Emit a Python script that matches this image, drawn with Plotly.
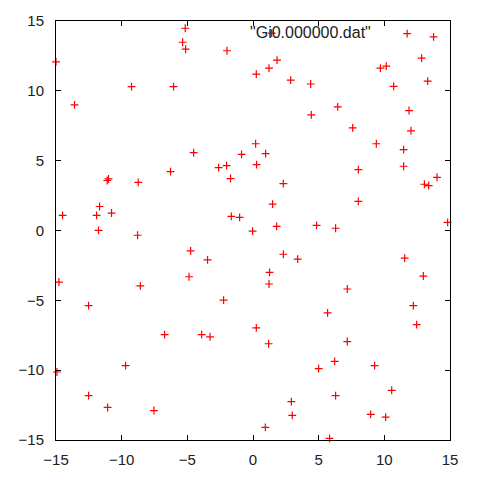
import plotly.graph_objects as go

x_vals = [-15.0, -13.59, -9.25, -6.05, -5.16, -5.36, -5.13, -1.98, -4.52, -0.87,
          1.42, 13.75, 1.83, 1.22, 0.25, 2.87, 4.39, 9.70, 10.15, 12.84,
          10.71, 13.30, 6.45, 4.44, 11.88, 7.59, 12.03, 0.20, 9.39, 11.47,
          0.96, -6.28, -2.62, -2.01, -1.71, -11.0, -11.1, -8.74, -11.68, -14.5,
          -11.91, -10.77, -1.65, -1.02, -0.03, -11.76, -8.79, -4.75, -3.46, -14.78,
          -8.58, -4.87, -2.24, 0.27, 2.31, 8.02, 11.47, 13.05, 13.38, 14.01,
          1.49, 8.02, 14.82, 1.80, 4.84, 6.29, 2.31, 3.40, 11.55, 1.26,
          1.22, 12.97, 7.18, -12.52, -6.73, -3.91, -3.27, -9.70, -14.93, -12.52,
          -11.07, -7.54, 12.21, 12.46, 5.68, 0.25, 1.19, 7.18, 6.22, 5.0,
          9.26, 10.56, 6.29, 2.92, 2.99, 8.96, 10.10, 0.94, 5.83]
y_vals = [12.08, 9.0, 10.3, 10.3, 14.48, 13.48, 12.98, 12.87, 5.57, 5.45,
          14.13, 13.86, 12.2, 11.63, 11.2, 10.77, 10.49, 11.63, 11.77, 12.34,
          10.32, 10.7, 8.85, 8.28, 8.59, 7.35, 7.14, 6.21, 6.21, 5.79,
          5.50, 4.22, 4.50, 4.65, 3.72, 3.69, 3.58, 3.44, 1.72, 1.08,
          1.08, 1.25, 1.01, 0.94, -0.04, 0.01, -0.34, -1.46, -2.10, -3.69,
          -3.96, -3.31, -4.98, 4.72, 3.36, 4.36, 4.60, 3.31, 3.22, 3.81,
          1.89, 2.08, 0.58, 0.30, 0.37, 0.16, -1.70, -2.05, -1.98, -3.0,
          -3.83, -3.26, -4.19, -5.38, -7.45, -7.45, -7.61, -9.68, -10.13, -11.82,
          -12.67, -12.89, -5.38, -6.74, -5.90, -6.97, -8.11, -7.95, -9.37, -9.89,
          -9.68, -11.44, -11.82, -12.25, -13.24, -13.17, -13.36, -14.10, -14.88]

series_name = '"Gi0.000000.dat"'
tick_vals = [-15, -10, -5, 0, 5, 10, 15]

fig = go.Figure()
fig.add_trace(go.Scatter(
    x=x_vals, y=y_vals, mode="markers", name=" ",
    marker=dict(symbol="cross-thin", size=5.6, color="#ff0000",
                line=dict(color="#ff0000", width=1.2)),
    cliponaxis=False, showlegend=True,
))

axis_common = dict(
    range=[-15, 15], tickvals=tick_vals, ticks="inside", ticklen=5,
    tickcolor="black", tickwidth=1, showline=True, linecolor="black",
    linewidth=1, mirror="allticks", showgrid=False, zeroline=False,
    tickfont=dict(family="Liberation Sans, Arial, sans-serif", size=15, color="#202020"),
)

fig.update_layout(
    width=480, height=480,
    margin=dict(l=56, r=30, t=20, b=39),
    paper_bgcolor="white", plot_bgcolor="white",
    showlegend=True,
    xaxis=dict(**axis_common, ticklabelstandoff=6),
    yaxis=dict(**axis_common, ticklabelstandoff=8),
    legend=dict(x=0.8405, y=1.0045, xanchor="left", yanchor="top",
                bgcolor="rgba(0,0,0,0)", font=dict(size=12),
                itemwidth=30),
    annotations=[dict(
        text=series_name, xref="paper", yref="paper", x=0.805, y=0.9715,
        xanchor="right", yanchor="middle", showarrow=False,
        font=dict(family="Liberation Sans, Arial, sans-serif", size=16, color="#202020"),
    )],
)

fig.write_html("out.html", config={"displayModeBar": False},
               post_script="document.body.style.margin='0';document.body.style.padding='0';")
